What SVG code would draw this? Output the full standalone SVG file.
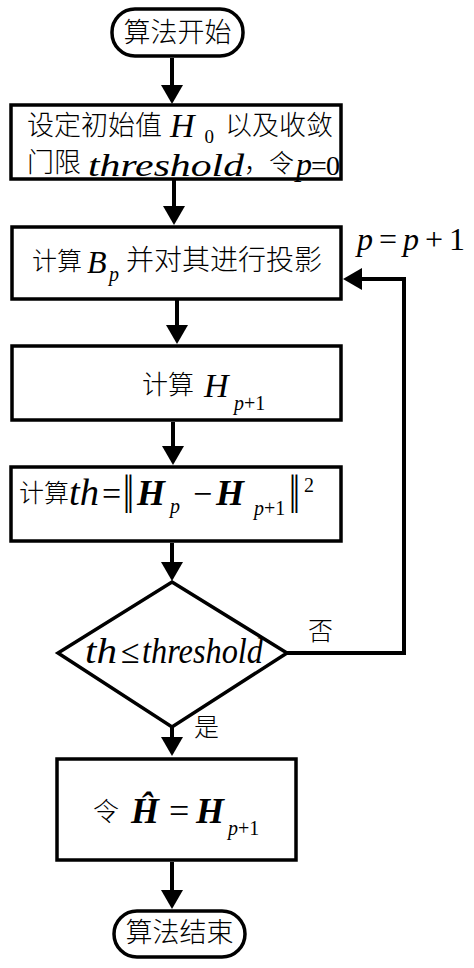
<svg xmlns="http://www.w3.org/2000/svg" width="474" height="968" viewBox="0 0 474 968">
<style>
.box{fill:#fff;stroke:#000;stroke-width:3.5}
.ln{fill:none;stroke:#000;stroke-width:4}
.cj{font-family:"Noto Sans CJK SC","Liberation Serif",sans-serif;fill:#000;font-weight:300}
.m{font-family:"Liberation Serif","DejaVu Serif",serif;fill:#000}
.i{font-style:italic}
.b{font-weight:bold;font-style:italic}
</style>
<defs>
<marker id="ah" markerUnits="userSpaceOnUse" markerWidth="20" markerHeight="22" refX="4" refY="11" orient="auto">
<path d="M0,0 L19,11 L0,22 Z" fill="#000"/>
</marker>
</defs>
<rect width="474" height="968" fill="#fff"/>
<g id="connectors">
<line class="ln" x1="172" y1="58" x2="172" y2="89" marker-end="url(#ah)"/>
<line class="ln" x1="174" y1="180" x2="174" y2="210" marker-end="url(#ah)"/>
<line class="ln" x1="177" y1="300" x2="177" y2="329" marker-end="url(#ah)"/>
<line class="ln" x1="173" y1="422" x2="173" y2="450" marker-end="url(#ah)"/>
<line class="ln" x1="172" y1="543" x2="172" y2="566" marker-end="url(#ah)"/>
<line class="ln" x1="172" y1="727" x2="172" y2="741" marker-end="url(#ah)"/>
<line class="ln" x1="172" y1="862" x2="172" y2="894" marker-end="url(#ah)"/>
<polyline class="ln" points="287,653 404,653 404,279 358,279" marker-end="url(#ah)"/>
<text class="m" font-size="32" x="357" y="250" textLength="108"><tspan class="i">p</tspan> = <tspan class="i">p</tspan> + 1</text>
<text class="cj" font-size="25" x="308" y="640">否</text>
<text class="cj" font-size="25" x="194" y="736">是</text>
</g>
<g id="start">
<rect class="box" x="112" y="9" width="131" height="47" rx="23"/>
<text class="cj" font-size="27" x="177.5" y="42" text-anchor="middle">算法开始</text>
</g>
<g id="init">
<rect class="box" x="11" y="105" width="330" height="74"/>
<text class="cj" font-size="27" x="27" y="135">设定初始值</text>
<text class="m" x="170" y="137"><tspan class="i" font-size="34">H</tspan><tspan font-size="19" dx="10" dy="6">0</tspan></text>
<text class="cj" font-size="27" x="225" y="135">以及收敛</text>
<text class="cj" font-size="27" x="27" y="172">门限</text>
<text class="m i" font-size="32" x="88" y="176" textLength="156" lengthAdjust="spacingAndGlyphs">threshold</text>
<text class="cj" font-size="25" x="244" y="172">，令</text>
<text class="m i" font-size="32" x="296" y="175">p</text>
<text class="m" font-size="28" x="311" y="175">=</text>
<text class="m" font-size="28" x="326" y="175">0</text>
</g>
<g id="computeB">
<rect class="box" x="12" y="227" width="329" height="72"/>
<text class="cj" font-size="25" x="32" y="270">计算</text>
<text class="m i" font-size="32" x="87" y="273">B</text>
<text class="m i" font-size="20" x="109" y="281">p</text>
<text class="cj" font-size="28" x="126" y="270">并对其进行投影</text>
</g>
<g id="computeH">
<rect class="box" x="12" y="346" width="329" height="74"/>
<text class="cj" font-size="26" x="142" y="394">计算</text>
<text class="m i" font-size="34" x="204" y="397">H</text>
<text class="m" font-size="20" x="234" y="410"><tspan class="i">p</tspan>+1</text>
</g>
<g id="computeTh">
<rect class="box" x="11" y="467" width="330" height="74"/>
<text class="cj" font-size="25" x="19" y="502">计算</text>
<text class="m i" font-size="38" x="69" y="505" textLength="30" lengthAdjust="spacingAndGlyphs">th</text>
<text class="m" font-size="34" x="102" y="505">=</text>
<text class="m" font-size="34" transform="translate(123,513) scale(1.15,1.6)">‖</text>
<text class="m b" font-size="36" x="137" y="505">H</text>
<text class="m i" font-size="20" x="170" y="513">p</text>
<text class="m" font-size="34" x="193" y="505">−</text>
<text class="m b" font-size="36" x="216" y="505">H</text>
<text class="m" font-size="20" x="254" y="515"><tspan class="i">p</tspan>+1</text>
<text class="m" font-size="34" transform="translate(289,513) scale(1.15,1.6)">‖</text>
<text class="m" font-size="20" x="304" y="492">2</text>
</g>
<g id="decision">
<polygon class="box" points="172,582 287,653 172,727 58,653"/>
<text class="m i" font-size="36" x="85" y="663" textLength="32" lengthAdjust="spacingAndGlyphs">th</text>
<text class="m" font-size="34" x="121" y="663">≤</text>
<text class="m i" font-size="36" x="142" y="663" textLength="121" lengthAdjust="spacingAndGlyphs">threshold</text>
</g>
<g id="assign">
<rect class="box" x="57" y="759" width="239" height="101"/>
<text class="cj" font-size="26" x="93" y="821">令</text>
<text class="m b" font-size="36" x="131" y="823">Ĥ</text>
<text class="m" font-size="36" x="169" y="823">=</text>
<text class="m b" font-size="36" x="196" y="823">H</text>
<text class="m" font-size="20" x="228" y="835"><tspan class="i">p</tspan>+1</text>
</g>
<g id="end">
<rect class="box" x="114" y="911" width="131" height="46" rx="23"/>
<text class="cj" font-size="27" x="179.5" y="942" text-anchor="middle">算法结束</text>
</g>
</svg>
